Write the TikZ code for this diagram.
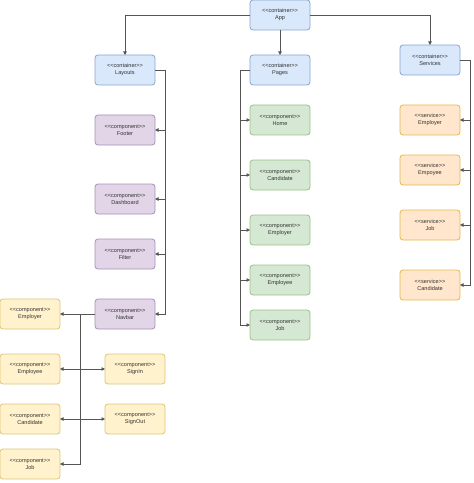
\documentclass[tikz,border=0pt]{standalone}
\usepackage{fontspec}
\setmainfont{Liberation Sans}
\usetikzlibrary{positioning,arrows.meta}

\definecolor{contfill}{HTML}{DAE8FC}
\definecolor{contdraw}{HTML}{6C8EBF}
\definecolor{layfill}{HTML}{E1D5E7}
\definecolor{laydraw}{HTML}{9673A6}
\definecolor{pagefill}{HTML}{D5E8D4}
\definecolor{pagedraw}{HTML}{82B366}
\definecolor{servfill}{HTML}{FFE6CC}
\definecolor{servdraw}{HTML}{D79B00}
\definecolor{navfill}{HTML}{FFF2CC}
\definecolor{navdraw}{HTML}{D6B656}
\definecolor{wire}{HTML}{555555}

\newcommand{\stereo}[1]{{<}{<}#1{>}{>}}

\begin{document}
\begin{tikzpicture} [
                x=1bp, y=-1bp,
                boxnode/.style={
                    rectangle,
                    rounded corners=3bp,
                    line width=0.8bp,
                    minimum width=60bp,
                    minimum height=30bp,
                    inner sep=0pt,
                    outer sep=0pt,
                    align=center,
                    text=black!80,
                    font=\fontsize{5.6}{7}\selectfont
                },
                contnode/.style={boxnode, draw=contdraw!80, fill=contfill},
                laynode/.style={boxnode, draw=laydraw!80, fill=layfill},
                pagenode/.style={boxnode, draw=pagedraw!80, fill=pagefill},
                servnode/.style={boxnode, draw=servdraw!70, fill=servfill},
                navnode/.style={boxnode, draw=navdraw!80, fill=navfill},
                link/.style={draw=wire, line width=0.8bp, -{Triangle[length=3.5bp,width=3.5bp]}}
            ]

                \useasboundingbox (0,0) rectangle (474,483);

                % containers
                \node[contnode]     (app)       at (280,15)     {\stereo{container}\\App};
                \node[contnode]     (layouts)   at (125,70)     {\stereo{container}\\Layouts};
                \node[contnode]     (pages)     at (280,70)     {\stereo{container}\\Pages};
                \node[contnode]     (services)  at (430,60)     {\stereo{container}\\Services};

                % layouts column
                \node[laynode]      (footer)    [below=30bp of layouts]     {\stereo{component}\\Footer};
                \node[laynode]      (dashboard) [below=39bp of footer]      {\stereo{component}\\Dashboard};
                \node[laynode]      (filter)    [below=25bp of dashboard]   {\stereo{component}\\Filter};
                \node[laynode]      (navbar)    [below=30bp of filter]      {\stereo{component}\\Navbar};

                % pages column
                \node[pagenode]     (home)      [below=20bp of pages]       {\stereo{component}\\Home};
                \node[pagenode]     (pcand)     [below=25bp of home]        {\stereo{component}\\Candidate};
                \node[pagenode]     (pemployer) [below=25bp of pcand]       {\stereo{component}\\Employer};
                \node[pagenode]     (pemployee) [below=20bp of pemployer]   {\stereo{component}\\Employee};
                \node[pagenode]     (pjob)      [below=15bp of pemployee]   {\stereo{component}\\Job};

                % services column
                \node[servnode]     (semployer) [below=30bp of services]    {\stereo{service}\\Employer};
                \node[servnode]     (sempoyee)  [below=20bp of semployer]   {\stereo{service}\\Empoyee};
                \node[servnode]     (sjob)      [below=25bp of sempoyee]    {\stereo{service}\\Job};
                \node[servnode]     (scand)     [below=30bp of sjob]        {\stereo{service}\\Candidate};

                % navbar children
                \node[navnode]      (nemployer) [left=35bp of navbar]       {\stereo{component}\\Employer};
                \node[navnode]      (nemployee) [below=25bp of nemployer]   {\stereo{component}\\Employee};
                \node[navnode]      (ncand)     [below=20bp of nemployee]   {\stereo{component}\\Candidate};
                \node[navnode]      (njob)      [below=15bp of ncand]       {\stereo{component}\\Job};
                \node[navnode]      (signin)    [right=45bp of nemployee]   {\stereo{component}\\SignIn};
                \node[navnode]      (signout)   [right=45bp of ncand]       {\stereo{component}\\SignOut};

                % connectors
                \draw[link] (app.west) -| (layouts.north);
                \draw[link] (app.east) -| (services.north);
                \draw[link] (app) -- (pages);

                \coordinate (lbus) at ([xshift=10bp]layouts.east);
                \draw[draw=wire, line width=0.8bp] (layouts.east) -- (lbus);
                \foreach \n in {footer,dashboard,filter,navbar}
                    \draw[link] (lbus) |- (\n.east);

                \coordinate (pbus) at ([xshift=-10bp]pages.west);
                \draw[draw=wire, line width=0.8bp] (pages.west) -- (pbus);
                \foreach \n in {home,pcand,pemployer,pemployee,pjob}
                    \draw[link] (pbus) |- (\n.west);

                \coordinate (sbus) at ([xshift=10bp]services.east);
                \draw[draw=wire, line width=0.8bp] (services.east) -- (sbus);
                \foreach \n in {semployer,sempoyee,sjob,scand}
                    \draw[link] (sbus) |- (\n.east);

                \coordinate (nbus) at ([xshift=-15bp]navbar.west);
                \draw[link] (navbar.west) -- (nemployer.east);
                \foreach \n in {nemployee,ncand,njob}
                    \draw[link] (nbus) |- (\n.east);
                \draw[link] (nbus |- signin.west) -- (signin.west);
                \draw[link] (nbus |- signout.west) -- (signout.west);

            \end{tikzpicture}
\end{document}
